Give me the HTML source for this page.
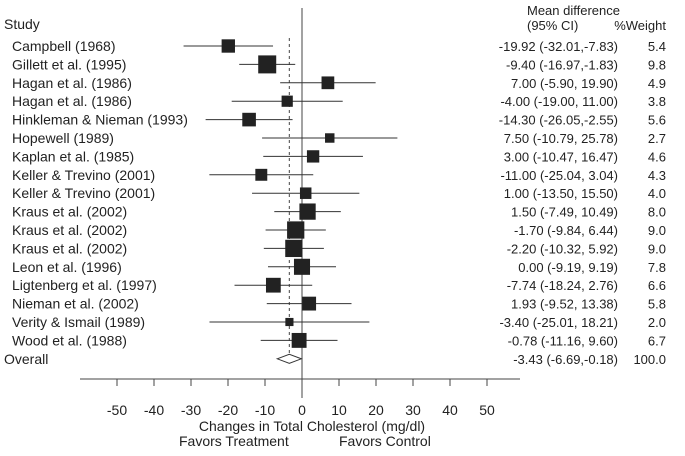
<!DOCTYPE html>
<html><head><meta charset="utf-8"><style>
body{margin:0;background:#fff;}
svg text{font-family:"Liberation Sans",Arial,sans-serif;font-size:13px;fill:#222;}
svg text.big{font-size:14px;}
</style></head><body>
<svg id="c" width="685" height="451"></svg>
<script>
const studies=["Campbell (1968)","Gillett et al. (1995)","Hagan et al. (1986)","Hagan et al. (1986)","Hinkleman & Nieman (1993)","Hopewell (1989)","Kaplan et al. (1985)","Keller & Trevino (2001)","Keller & Trevino (2001)","Kraus et al. (2002)","Kraus et al. (2002)","Kraus et al. (2002)","Leon et al. (1996)","Ligtenberg et al. (1997)","Nieman et al. (2002)","Verity & Ismail (1989)","Wood et al. (1988)"];
const means=[-19.92,-9.40,7.00,-4.00,-14.30,7.50,3.00,-11.00,1.00,1.50,-1.70,-2.20,0.00,-7.74,1.93,-3.40,-0.78];
const lows=[-32.01,-16.97,-5.90,-19.00,-26.05,-10.79,-10.47,-25.04,-13.50,-7.49,-9.84,-10.32,-9.19,-18.24,-9.52,-25.01,-11.16];
const highs=[-7.83,-1.83,19.90,11.00,-2.55,25.78,16.47,3.04,15.50,10.49,6.44,5.92,9.19,2.76,13.38,18.21,9.60];
const weights=[5.4,9.8,4.9,3.8,5.6,2.7,4.6,4.3,4.0,8.0,9.0,9.0,7.8,6.6,5.8,2.0,6.7];
const overall=[-3.43,-6.69,-0.18];
const ticks=[-50,-40,-30,-20,-10,0,10,20,30,40,50];
const svg=document.getElementById('c');
const NS='http://www.w3.org/2000/svg';
const xs=v=>302+v*3.7;
const ys=i=>46+i*18.4;
function mk(t,a,p){const e=document.createElementNS(NS,t);for(const k in a)e.setAttribute(k,a[k]);(p||svg).appendChild(e);return e;}
function tx(x,y,s,anchor,name,big){const e=mk('text',{x:x,y:y,'text-anchor':anchor||'start'});if(big)e.setAttribute('class','big');e.textContent=s;

return e;}
function ci(m,lo,hi){return m.toFixed(2)+' ('+lo.toFixed(2)+','+(hi>=0?' ':'')+hi.toFixed(2)+')';}
tx(4,29,'Study','start','study-header',true);
tx(527,15,'Mean difference','start','mean-diff-header');
tx(527,30,'(95% CI)','start','ci-header');
tx(666,30,'%Weight','end','weight-header');
let l=mk('line',{x1:xs(0),y1:8,x2:xs(0),y2:398,stroke:'#444','stroke-width':1});


l=mk('line',{x1:xs(overall[0]),y1:38,x2:xs(overall[0]),y2:357,stroke:'#444','stroke-width':1,'stroke-dasharray':'3,3'});


studies.forEach((s,i)=>{
  const y=ys(i);
  tx(12,y+5,s,'start','study-label',true);
  const ln=mk('line',{x1:xs(lows[i]),y1:y,x2:xs(highs[i]),y2:y,stroke:'#333','stroke-width':1});
  
  
  const sz=18*Math.sqrt(weights[i]/9.8);
  const r=mk('rect',{x:xs(means[i])-sz/2,y:y-sz/2,width:sz,height:sz,fill:'#222'});
  
  
  tx(618,y+5,ci(means[i],lows[i],highs[i]),'end','effect-value');
  tx(666,y+5,weights[i].toFixed(1),'end','weight-value');
});
const oy=ys(17);
tx(4,oy+5,'Overall','start','overall-label',true);
const d=mk('polygon',{points:`${xs(overall[1])},${oy} ${xs(overall[0])},${oy-4.5} ${xs(overall[2])},${oy} ${xs(overall[0])},${oy+4.5}`,fill:'#fff',stroke:'#333'});


tx(618,oy+5,ci(overall[0],overall[1],overall[2]),'end','overall-value');
tx(666,oy+5,'100.0','end','overall-weight');
l=mk('line',{x1:80,y1:379,x2:520,y2:379,stroke:'#444','stroke-width':1});


ticks.forEach(t=>{
  const tk=mk('line',{x1:xs(t),y1:379,x2:xs(t),y2:386,stroke:'#444'});
  
  
  tx(xs(t),415,String(t),'middle','x-tick-label',true);
});
tx(312,431,'Changes in Total Cholesterol (mg/dl)','middle','x-axis-title',true);
tx(179,446,'Favors Treatment','start','favors-treatment-label',true);
tx(339,446,'Favors Control','start','favors-control-label',true);
</script>
</body></html>
